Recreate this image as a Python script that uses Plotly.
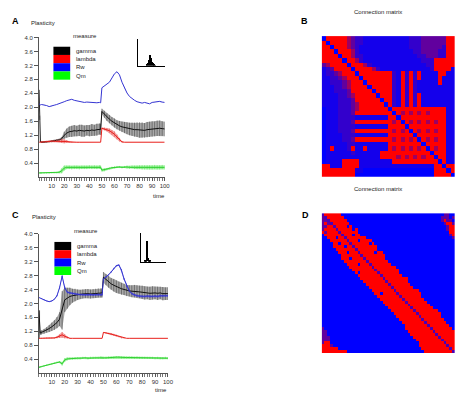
import plotly.graph_objects as go

W, H = 474, 395
OFF = 8  # page body margin of the generated html
def px(x): return (x - OFF) / W
def py(y): return 1 - (y - OFF) / H

FONT = "Liberation Sans, Arial, sans-serif"

# ---------------- data ----------------
t = [0, 0.5, 1, 2, 4, 6, 8, 10, 12, 14,
     16, 18, 20, 22, 24, 26, 28, 30, 32, 34,
     36, 38, 40, 42, 44, 46, 48, 49,
     50, 52, 54, 56, 58, 60, 62, 64, 66, 68,
     70, 72, 74, 76, 78, 80, 82, 84, 86, 88,
     90, 92, 94, 96, 98, 100]

measures = ["gamma", "lambda", "Rw", "Qm"]

# Panel A
A_gamma = [2.50, 1.70, 1.02, 1.00, 1.00, 1.01, 1.02, 1.03, 1.04, 1.05,
           1.07, 1.10, 1.20, 1.26, 1.30, 1.31, 1.33, 1.32, 1.34, 1.33,
           1.32, 1.34, 1.33, 1.35, 1.34, 1.36, 1.38, 1.37,
           1.88, 1.80, 1.72, 1.66, 1.60, 1.55, 1.50, 1.47, 1.44, 1.42,
           1.40, 1.38, 1.37, 1.36, 1.36, 1.35, 1.35, 1.34, 1.36, 1.37,
           1.38, 1.38, 1.40, 1.40, 1.39, 1.38]
A_gamma_err = [0.00, 0.06, 0.02, 0.02, 0.02, 0.02, 0.02, 0.03, 0.03, 0.03,
               0.03, 0.05, 0.10, 0.13, 0.15, 0.16, 0.16, 0.15, 0.16, 0.17,
               0.16, 0.15, 0.16, 0.17, 0.16, 0.17, 0.16, 0.16,
               0.08, 0.10, 0.11, 0.12, 0.12, 0.13, 0.13, 0.14, 0.15, 0.16,
               0.17, 0.18, 0.19, 0.20, 0.21, 0.22, 0.22, 0.21, 0.22, 0.22,
               0.22, 0.21, 0.22, 0.22, 0.21, 0.21]
A_lambda = [1.00, 1.00, 1.00, 1.01, 1.01, 1.02, 1.02, 1.03, 1.03, 1.04,
            1.04, 1.04, 1.03, 1.02, 1.01, 1.00, 1.00, 1.00, 1.00, 1.00,
            1.00, 1.00, 1.00, 1.00, 1.00, 1.00, 1.00, 1.00,
            1.40, 1.38, 1.36, 1.33, 1.28, 1.23, 1.15, 1.07, 1.01, 1.00,
            1.00, 1.00, 1.00, 1.00, 1.00, 1.00, 1.00, 1.00, 1.00, 1.00,
            1.00, 1.00, 1.00, 1.00, 1.00, 1.00]
A_lambda_err = [0.00, 0.00, 0.00, 0.02, 0.02, 0.02, 0.03, 0.03, 0.03, 0.03,
                0.04, 0.06, 0.06, 0.04, 0.02, 0.01, 0.00, 0.00, 0.00, 0.00,
                0.00, 0.00, 0.00, 0.00, 0.00, 0.00, 0.00, 0.00,
                0.02, 0.04, 0.05, 0.06, 0.07, 0.08, 0.07, 0.05, 0.02, 0.00,
                0.00, 0.00, 0.00, 0.00, 0.00, 0.00, 0.00, 0.00, 0.00, 0.00,
                0.00, 0.00, 0.00, 0.00, 0.00, 0.00]
A_Rw = [2.10, 2.08, 2.07, 2.08, 2.07, 2.05, 2.02, 2.03, 2.06, 2.08,
        2.10, 2.13, 2.16, 2.19, 2.22, 2.23, 2.20, 2.18, 2.16, 2.15,
        2.14, 2.15, 2.14, 2.13, 2.14, 2.13, 2.14, 2.13,
        2.56, 2.61, 2.66, 2.72, 2.84, 2.96, 3.02, 2.93, 2.72, 2.54,
        2.41, 2.31, 2.25, 2.20, 2.16, 2.13, 2.12, 2.14, 2.13, 2.10,
        2.14, 2.15, 2.16, 2.17, 2.15, 2.14]
A_Rw_err = [0.00, 0.00, 0.00, 0.00, 0.00, 0.00, 0.00, 0.00, 0.00, 0.00,
            0.00, 0.00, 0.00, 0.00, 0.00, 0.00, 0.00, 0.00, 0.00, 0.00,
            0.00, 0.00, 0.00, 0.00, 0.00, 0.00, 0.00, 0.00,
            0.00, 0.00, 0.00, 0.00, 0.00, 0.00, 0.00, 0.00, 0.00, 0.00,
            0.00, 0.00, 0.00, 0.00, 0.00, 0.00, 0.00, 0.00, 0.00, 0.00,
            0.00, 0.00, 0.00, 0.00, 0.00, 0.00]
A_Qm = [0.12, 0.12, 0.12, 0.12, 0.12, 0.12, 0.12, 0.13, 0.13, 0.13,
        0.14, 0.18, 0.26, 0.28, 0.28, 0.27, 0.28, 0.28, 0.27, 0.28,
        0.28, 0.28, 0.29, 0.28, 0.29, 0.28, 0.29, 0.28,
        0.20, 0.21, 0.23, 0.25, 0.27, 0.28, 0.29, 0.29, 0.28, 0.29,
        0.29, 0.28, 0.29, 0.28, 0.28, 0.29, 0.28, 0.28, 0.28, 0.28,
        0.28, 0.29, 0.28, 0.28, 0.29, 0.28]
A_Qm_err = [0.01, 0.01, 0.02, 0.02, 0.02, 0.02, 0.02, 0.02, 0.02, 0.02,
            0.03, 0.07, 0.07, 0.05, 0.05, 0.05, 0.05, 0.05, 0.05, 0.05,
            0.05, 0.05, 0.05, 0.05, 0.05, 0.05, 0.05, 0.05,
            0.04, 0.04, 0.03, 0.03, 0.03, 0.03, 0.03, 0.03, 0.03, 0.03,
            0.04, 0.04, 0.04, 0.05, 0.05, 0.05, 0.06, 0.06, 0.06, 0.06,
            0.06, 0.06, 0.06, 0.06, 0.06, 0.06]

# Panel C
C_gamma = [1.80, 1.40, 1.15, 1.17, 1.20, 1.24, 1.28, 1.33, 1.38, 1.45,
           1.55, 1.80, 2.10, 2.15, 2.20, 2.22, 2.24, 2.25, 2.26, 2.27,
           2.28, 2.28, 2.27, 2.28, 2.29, 2.30, 2.30, 2.30,
           2.75, 2.68, 2.62, 2.56, 2.52, 2.48, 2.45, 2.42, 2.40, 2.37,
           2.36, 2.35, 2.35, 2.34, 2.33, 2.32, 2.30, 2.30, 2.29, 2.30,
           2.30, 2.29, 2.30, 2.28, 2.28, 2.28]
C_gamma_err = [0.00, 0.40, 0.05, 0.06, 0.07, 0.08, 0.10, 0.12, 0.14, 0.16,
               0.20, 0.55, 0.35, 0.30, 0.25, 0.20, 0.18, 0.15, 0.13, 0.13,
               0.13, 0.13, 0.13, 0.13, 0.13, 0.13, 0.13, 0.13,
               0.15, 0.16, 0.17, 0.17, 0.18, 0.18, 0.17, 0.17, 0.16, 0.16,
               0.16, 0.17, 0.18, 0.18, 0.18, 0.19, 0.19, 0.18, 0.19, 0.19,
               0.18, 0.19, 0.18, 0.19, 0.18, 0.18]
C_lambda = [1.00, 1.00, 1.00, 1.00, 1.00, 1.01, 1.01, 1.01, 1.01, 1.03,
            1.06, 1.10, 1.06, 1.02, 1.00, 1.00, 1.00, 1.00, 1.00, 1.00,
            1.00, 1.00, 1.00, 1.00, 1.00, 1.00, 1.00, 1.00,
            1.17, 1.16, 1.14, 1.12, 1.10, 1.08, 1.05, 1.02, 1.00, 1.00,
            1.00, 1.00, 1.00, 1.00, 1.00, 1.00, 1.00, 1.00, 1.00, 1.00,
            1.00, 1.00, 1.00, 1.00, 1.00, 1.00]
C_lambda_err = [0.00, 0.00, 0.00, 0.015, 0.015, 0.015, 0.015, 0.015, 0.02, 0.03,
                0.05, 0.08, 0.06, 0.03, 0.01, 0.00, 0.00, 0.00, 0.00, 0.00,
                0.00, 0.00, 0.00, 0.00, 0.00, 0.00, 0.00, 0.00,
                0.01, 0.02, 0.02, 0.03, 0.03, 0.03, 0.02, 0.02, 0.01, 0.00,
                0.00, 0.00, 0.00, 0.00, 0.00, 0.00, 0.00, 0.00, 0.00, 0.00,
                0.00, 0.00, 0.00, 0.00, 0.00, 0.00]
C_Rw = [2.17, 2.16, 2.15, 2.14, 2.10, 2.07, 2.05, 2.07, 2.12, 2.22,
        2.45, 2.78, 2.45, 2.32, 2.30, 2.28, 2.27, 2.26, 2.25, 2.25,
        2.24, 2.25, 2.25, 2.24, 2.25, 2.26, 2.25, 2.25,
        2.70, 2.75, 2.82, 2.90, 3.00, 3.08, 3.10, 2.95, 2.70, 2.50,
        2.36, 2.28, 2.24, 2.22, 2.21, 2.20, 2.20, 2.21, 2.20, 2.20,
        2.21, 2.20, 2.22, 2.21, 2.22, 2.22]
C_Rw_err = [0.00, 0.00, 0.00, 0.01, 0.01, 0.01, 0.01, 0.01, 0.01, 0.02,
            0.03, 0.04, 0.04, 0.03, 0.03, 0.03, 0.03, 0.03, 0.03, 0.03,
            0.03, 0.03, 0.03, 0.03, 0.03, 0.03, 0.03, 0.03,
            0.02, 0.02, 0.02, 0.02, 0.02, 0.02, 0.02, 0.03, 0.03, 0.03,
            0.03, 0.03, 0.03, 0.03, 0.03, 0.03, 0.03, 0.03, 0.03, 0.03,
            0.03, 0.03, 0.03, 0.03, 0.03, 0.03]
C_Qm = [0.17, 0.17, 0.18, 0.19, 0.21, 0.23, 0.25, 0.27, 0.29, 0.31,
        0.32, 0.27, 0.38, 0.41, 0.42, 0.42, 0.43, 0.43, 0.43, 0.44,
        0.44, 0.43, 0.44, 0.44, 0.44, 0.44, 0.45, 0.44,
        0.44, 0.44, 0.45, 0.45, 0.45, 0.46, 0.46, 0.45, 0.45, 0.45,
        0.45, 0.45, 0.44, 0.45, 0.44, 0.44, 0.44, 0.44, 0.44, 0.44,
        0.43, 0.44, 0.43, 0.43, 0.44, 0.43]
C_Qm_err = [0.01, 0.01, 0.02, 0.02, 0.02, 0.02, 0.02, 0.02, 0.02, 0.02,
            0.03, 0.05, 0.05, 0.04, 0.03, 0.03, 0.03, 0.03, 0.03, 0.03,
            0.03, 0.03, 0.03, 0.03, 0.03, 0.03, 0.03, 0.03,
            0.03, 0.03, 0.03, 0.03, 0.03, 0.03, 0.03, 0.03, 0.03, 0.03,
            0.03, 0.03, 0.03, 0.03, 0.03, 0.03, 0.03, 0.03, 0.03, 0.03,
            0.03, 0.03, 0.03, 0.03, 0.03, 0.03]

y_tickvals = [0.4, 0.8, 1.2, 1.6, 2.0, 2.4, 2.8, 3.2, 3.6, 4.0]
y_ticktext = ["0.4", "0.8", "1.2", "1.6", "2.0", "2.4", "2.8", "3.2", "3.6", "4.0"]
x_tickvals = [10, 20, 30, 40, 50, 60, 70, 80, 90, 100]
x_ticktext = ["10", "20", "30", "40", "50", "60", "70", "80", "90", "100"]

# inset histograms (30 bins)
A_hist = [0, 0, 0, 0, 0, 0, 0, 0, 0, 0.03,
          0.08, 0.12, 0.20, 0.42, 0.30, 0.13, 0.10, 0.08, 0.05, 0.02,
          0, 0, 0, 0, 0, 0, 0, 0, 0, 0]
C_hist = [0, 0, 0, 0, 0.02, 0.06, 0.10, 0.72, 0.12, 0.06,
          0.03, 0, 0, 0, 0, 0, 0, 0, 0, 0,
          0, 0, 0, 0, 0, 0, 0, 0, 0, 0]

# connection matrices (B: 32x32, D: 48x48); R=red, B/. = blue, others = mixes
levels = {"B": 0.0, ".": 0.0, "b": 0.08, "q": 0.2, "d": 0.3, "p": 0.38,
          "m": 0.62, "r": 0.8, "R": 1.0}
B_rows = [
    "BRRRRRmp qqbbbbbb bbbbbqqq ppppppRR",
    "RBRRRRmp qqbbbbbb bbbbbqqq ppppppRR",
    "RRBRRRmp qbbbbbbb bbbbbqqq pppppqRR",
    "RRRBRRRm qbbbbbbb bbbbbbqq ppppqqRR",
    "RRRRBRRm qqbbbbbb bbbbbbbq qpppqqRR",
    "RRRRRBRR mqbbbbbb bbbbbbbb qqqRRRRR",
    "pmRRRRBR RRmqbbbb bbbbbbbb bqqRRRRR",
    "bqpRRRRB RRRRmqbb bbbbbbbb bbqRRRRb",
    "bqqpmRRR BRRRRRRR RqbRqRqR bbbbRRbb",
    "bbqqpmRR RBRRRRRR RqbRqRqR bbbbRbbb",
    "bbqqqpmR RRBRRRRR RqbRqRqb bbbbRbbb",
    "bbbqqpmR RRRBRRRR RqbRqRqb bbbbbbbb",
    "bbbqqqpR RRRRBRRR RqbRqRqb bbbbbbbb",
    "bbbbqqpm RRRRRBRR RqbRqRqR bbbbbbbb",
    "bbbbqqqp RRRRRRBR RqbRqRqR bbbbbbbb",
    "bbbbqqqp mRRRRRRB RqbRqRqR bbbbbbbb",
    "Bbbbqqqp mRRRRRRR BRRRRRRR RRRRRRbb",
    "Bbbbqqqp RRRRRRRR RBRmRmRm RmRRRRbb",
    "Bbbbqqqq bbbbbbbb RRBRRRRR RRRRRRbb",
    "Bbbbqqqp RRRRRRRR RmRBRmRm RmRmRRbb",
    "Bbbbqqqq bbbbbbbb RRRRBRRR RRRRRRbb",
    "Bbbbqqqp RRRRRRRR RmRmRBRm RmRmRRbb",
    "Bbbbbqqq bbbbbbbb RRRRRRBR RRRRRRbb",
    "Bbbbbqqp RRRRRRRR RmRmRmRB RmRmRRbb",
    "Bbbbbbqq bbbbbbbb RRRRRRRR BRRRRRbb",
    "BbRbbbqR bbRbbbbb RmRmRmRm RBRmRRbb",
    "Bbbbbbbq bbbbbbRR RRRRRRRR RRBRRRbb",
    "Bbbbbbbb bbbbbbRR RRmRmRmR mRRBRRbb",
    "BbbbbRRR Rbbbbbbb bRRRRRRR RRRRBRbb",
    "RRbbbRRR Rbbbbbbb bbbbbbbb bbbRRBRR",
    "RRRRRRRR bbBBBBBB BBBBBBBB BBBRRRBR",
    "RRRRRRRR BBBBBBBB BBBBBBBB BBBRRRRB",
]
D_rows = [
    "dRRRRRR. ........ ........ ........ ........ ....pp..",
    "pdRRRRRR ........ ........ ........ ........ ...ppp.p",
    "ppdRRRRR R....... ........ ........ ........ ...pRpp.",
    "pRpdRRRR RR...... ........ ........ ........ ....pRRp",
    "ppRRdRRR R.R..... ........ ........ ........ .....pRR",
    "pRRRRdRR RRR.R... ........ ........ ........ .....pRR",
    "RpRRRRdR RRRRR... ........ ........ ........ ......RR",
    ".RRRRRRd RRR.RR.. ........ ........ ........ ......pR",
    "..RRR.RR dRRRRRRR ........ ........ ........ .......p",
    "...RRRRR RdRRR.RR RR...... ........ ........ ........",
    "....RR.R RRdRRRRR R.R..... ........ ........ ........",
    "....RRRR .RRdRRRR RRRR.... ........ ........ ........",
    ".....RRR RRRRdRRR RRRR.... ........ ........ ........",
    "......RR R.RRRdRR RRR.RR.. ........ ........ ........",
    ".......R RRRRRRdR RRRRRRR. ........ ........ ........",
    ".......R RR.RRRRd RRRRRRR. ........ ........ ........",
    "........ RRRRRRRR dRRRRRRR ........ ........ ........",
    "........ .RRRR.RR RdRRRRRR R....... ........ ........",
    "........ ..RRRRRR RRdRRRRR RRR..... ........ ........",
    "........ ...RRRRR RRRdRRRR RRRR.... ........ ........",
    "........ ....R.RR RRRRdRRR RRRR.... ........ ........",
    "........ .....RRR RRRRRdRR RRRRR... ........ ........",
    "........ ......RR RRRRRRdR RRRRRRR. ........ ........",
    "........ .......R RRRRRRRd RRRRRRR. ........ ........",
    "........ ........ RRRRRRRR dRRRRRRR ........ ........",
    "........ ........ .RRRRRRR RdRRRRRR R....... ........",
    "........ ........ ..RRRRRR RRdRRRRR RRR..... ........",
    "........ ........ ...RR.RR RRRdRRRR RRRR.... ........",
    "........ ........ ....RRRR RRRRdRRR RRRR.... ........",
    "........ ........ .....RRR RRRRRdRR RRRRR... ........",
    "........ ........ ......RR RRRRRRdR RRRRRR.. ........",
    "........ ........ .......R RRRRRRRd RRRRRRR. ........",
    "........ ........ ........ RRRRRRRR dRRRRRRR ........",
    "........ ........ ........ .RRRRRRR RdRRRRRR RR......",
    "........ ........ ........ ..RRRRRR RRdRRRRR RRR.....",
    "........ ........ ........ ...RRRRR RRRdRRRR RRR.....",
    "........ ........ ........ ....RRRR RRRRdRRR RRRR....",
    "........ ........ ........ .....RRR RRRRRdRR RRRRR...",
    "........ ........ ........ ......RR RRRRRRdR RRRRRR..",
    "p....... ........ ........ ......RR RRRRRRRd RRRRRRR.",
    "pp...... ........ ........ .......R RRRRRRRR dRRRRRRR",
    "pp...... ........ ........ ........ RRRRRRRR RdRRRRRR",
    "ppp..... ........ ........ ........ .RRRRRRR RRdRRRRR",
    "ppp..... ........ ........ ........ ..RRRRRR RRRdRRRR",
    "pRR..... ........ ........ ........ ...RRRRR RRRRdRRR",
    "RRRp.... ........ ........ ........ ...RRRRR RRRRRdRR",
    "RRRRRR.. ........ ........ ........ ....RRRR RRRRRRdR",
    "RRRRRRRR R....... ........ ........ .....RRR RRRRRRRd",
]

def to_matrix(rows, n):
    out = []
    for r in rows:
        s = r.replace(" ", "")
        s = (s + s[-1] * n)[:n]
        out.append([levels[c] for c in s])
    return out

B_z = to_matrix(B_rows, 32)
D_z = to_matrix(D_rows, 48)

# ---------------- styles ----------------
line_col = {"gamma": "#111111", "lambda": "#e8201c", "Rw": "#3535d2", "Qm": "#2fcf2f"}
band_col = {"gamma": "rgba(160,160,160,0.9)", "lambda": "rgba(245,150,150,0.85)",
            "Rw": "rgba(90,90,220,0.6)", "Qm": "rgba(160,245,160,0.95)"}
err_col = {"gamma": "rgba(70,70,70,0.75)", "lambda": "rgba(225,90,90,0.8)",
           "Rw": "rgba(60,60,210,0.9)", "Qm": "rgba(110,225,110,0.9)"}
swatch_col = {"gamma": "#000000", "lambda": "#ff0000", "Rw": "#0000ff", "Qm": "#00ff00"}

fig = go.Figure()

panels = [
    ("x", "y", {"gamma": (A_gamma, A_gamma_err), "lambda": (A_lambda, A_lambda_err),
                "Rw": (A_Rw, A_Rw_err), "Qm": (A_Qm, A_Qm_err)}),
    ("x2", "y2", {"gamma": (C_gamma, C_gamma_err), "lambda": (C_lambda, C_lambda_err),
                  "Rw": (C_Rw, C_Rw_err), "Qm": (C_Qm, C_Qm_err)}),
]
order = ["gamma", "lambda", "Qm", "Rw"]
for xa, ya, series in panels:
    # shaded error bands (from the values and their errors)
    for m in order:
        vals, errs = series[m]
        up = [v + e for v, e in zip(vals, errs)]
        lo = [v - e for v, e in zip(vals, errs)]
        fig.add_trace(go.Scatter(
            x=t + t[::-1], y=up + lo[::-1], mode="lines", fill="toself",
            fillcolor=band_col[m], line=dict(width=0), hoverinfo="skip",
            xaxis=xa, yaxis=ya, showlegend=False))
    for m in order:
        vals, errs = series[m]
        fig.add_trace(go.Scatter(
            x=t, y=vals, mode="lines", xaxis=xa, yaxis=ya, showlegend=False,
            line=dict(color=line_col[m], width=1),
            error_y=dict(type="data", array=errs, visible=True, width=0,
                         thickness=0.8, color=err_col[m]),
        ))

bins = list(range(30))
fig.add_trace(go.Bar(x=bins, y=A_hist, xaxis="x3", yaxis="y3", width=1,
                     marker=dict(color="black", line=dict(width=0)), showlegend=False))
fig.add_trace(go.Bar(x=bins, y=C_hist, xaxis="x4", yaxis="y4", width=1,
                     marker=dict(color="black", line=dict(width=0)), showlegend=False))

cscale = [[0, "#0000ff"], [1, "#ff0000"]]
fig.add_trace(go.Heatmap(z=B_z, xaxis="x5", yaxis="y5", colorscale=cscale,
                         zmin=0, zmax=1, showscale=False))
fig.add_trace(go.Heatmap(z=D_z, xaxis="x6", yaxis="y6", colorscale=cscale,
                         zmin=0, zmax=1, showscale=False))

tickfont = dict(family=FONT, size=6, color="#333333")
axcol = "#555555"

def time_xaxis(domain, anchor):
    return dict(domain=domain, anchor=anchor, range=[0, 100], showgrid=False,
                zeroline=False, showline=True, linecolor=axcol, linewidth=1,
                tickvals=x_tickvals, ticktext=x_ticktext, ticks="outside",
                ticklen=3, tickcolor=axcol, tickfont=tickfont,
                minor=dict(dtick=2, tick0=0, ticks="outside", ticklen=3,
                           tickcolor="#777777"))

def value_yaxis(domain, anchor):
    return dict(domain=domain, anchor=anchor, range=[0, 4], showgrid=False,
                zeroline=False, showline=True, linecolor=axcol, linewidth=1,
                tickvals=y_tickvals, ticktext=y_ticktext, ticks="outside",
                ticklen=4, tickcolor=axcol, tickfont=tickfont)

def bare(domain, anchor, rng=None, line=False, rev=False):
    d = dict(domain=domain, anchor=anchor, showgrid=False, zeroline=False,
             showticklabels=False, ticks="", showline=line, linecolor="black",
             linewidth=1)
    if rng is not None:
        d["range"] = rng
    if rev:
        d["autorange"] = "reversed"
    return d

fig.update_layout(
    width=W, height=H, margin=dict(l=0, r=0, t=0, b=0),
    paper_bgcolor="white", plot_bgcolor="white", bargap=0,
    xaxis=time_xaxis([px(39.5), px(166.7)], "y"),
    yaxis=value_yaxis([py(175.4), py(34.7)], "x"),
    xaxis2=time_xaxis([px(39.3), px(170.0)], "y2"),
    yaxis2=value_yaxis([py(373.0), py(232.3)], "x2"),
    xaxis3=bare([px(140.0), px(167.0)], "y3", [-0.5, 29.5], True),
    yaxis3=bare([py(63.0), py(36.0)], "x3", [0, 1], True),
    xaxis4=bare([px(142.7), px(168.3)], "y4", [-0.5, 29.5], True),
    yaxis4=bare([py(260.7), py(232.0)], "x4", [0, 1], True),
    xaxis5=bare([px(325.7), px(460.7)], "y5"),
    yaxis5=bare([py(175.0), py(33.3)], "x5", rev=True),
    xaxis6=bare([px(325.7), px(460.7)], "y6"),
    yaxis6=bare([py(352.7), py(211.7)], "x6", rev=True),
)

ann = []
def text(x, y, s, size=6, bold=False, anchor="left", color="#222222"):
    ann.append(dict(x=px(x), y=py(y), xref="paper", yref="paper",
                    text=("<b>%s</b>" % s) if bold else s, borderpad=0,
                    showarrow=False, xanchor=anchor, yanchor="middle",
                    font=dict(family=FONT, size=size, color=color)))

# panel letters & titles
text(15.5, 18, "A", 9, True, "center", "black")
text(16, 214, "C", 9, True, "center", "black")
text(308.5, 18, "B", 9, True, "center", "black")
text(309, 214, "D", 9, True, "center", "black")
text(30, 20, "Plasticity", 6)
text(31, 216, "Plasticity", 6)
text(383, 9.5, "Connection matrix", 6, anchor="center")
text(383, 187.3, "Connection matrix", 6, anchor="center")
text(168, 194, "time", 6, anchor="right")
text(170, 389.5, "time", 6, anchor="right")
text(86, 33, "measure", 6, anchor="center")
text(87, 230, "measure", 6, anchor="center")

shapes = []
legends = [
    (54, 71, [44, 52.3, 60.6, 68.9, 77.2], 76),
    (55, 72, [240.7, 249, 257.3, 265.6, 274], 77),
]
for x0, x1, ys, lx in legends:
    for i, m in enumerate(measures):
        shapes.append(dict(type="rect", xref="paper", yref="paper",
                           x0=px(x0), x1=px(x1), y0=py(ys[i + 1]), y1=py(ys[i]),
                           fillcolor=swatch_col[m], line=dict(width=0)))
        text(lx, (ys[i] + ys[i + 1]) / 2, m, 6)

fig.update_layout(annotations=ann, shapes=shapes)
fig.write_html("out.html")
